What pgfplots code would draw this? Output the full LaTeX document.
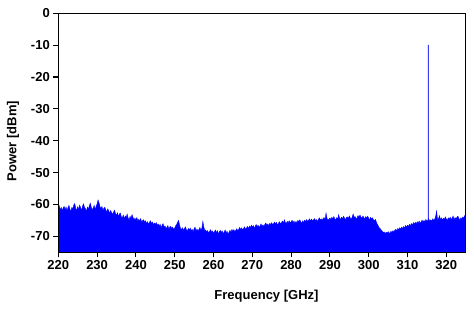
\documentclass[border=0pt]{standalone}
\usepackage{fontspec}
\setmainfont{Liberation Sans}
\usepackage{pgfplots}
\pgfplotsset{compat=1.18}
\begin{document}
\begin{tikzpicture}[font=\fontsize{13}{15.6}\selectfont\bfseries]
\begin{axis}[
  scale only axis, width=407.4pt, height=239pt,
  xmin=220, xmax=325, ymin=-75, ymax=0,
  xtick={220,230,...,320}, ytick={-70,-60,...,0},
  tick align=outside, xtick pos=left, ytick pos=left,
  major tick length=5pt, tick style={black, line width=1.1pt},
  axis line style={line width=1.1pt, black},
  axis on top,
  /pgf/number format/assume math mode=true,
  tick label style={font=\fontsize{13}{15.6}\selectfont\bfseries},
  xlabel={Frequency [GHz]}, ylabel={Power [dBm]},
  xlabel style={at={(axis description cs:0.511,-0.183)}, anchor=center},
  ylabel style={at={(axis description cs:-0.111,0.465)}, anchor=center},
]
\addplot[fill=blue, draw=blue, line width=0.4pt] coordinates {
(220,-80)
(220,-61.2) (220.25,-60.4) (220.5,-61.8) (220.75,-60.9)
(221,-62.0) (221.25,-61.1) (221.5,-60.6) (221.75,-61.7)
(222,-60.8) (222.25,-61.9) (222.5,-61.0) (222.75,-60.3)
(223,-61.5) (223.25,-62.2) (223.5,-60.9) (223.75,-61.4)
(224,-60.1) (224.25,-59.7) (224.5,-61.2) (224.75,-61.8)
(225,-60.7) (225.25,-61.6) (225.5,-60.2) (225.75,-61.0)
(226,-61.9) (226.25,-60.5) (226.5,-59.8) (226.75,-60.9)
(227,-61.3) (227.25,-62.1) (227.5,-60.8) (227.75,-61.5)
(228,-60.4) (228.25,-59.6) (228.5,-60.9) (228.75,-61.7)
(229,-61.1) (229.25,-60.3) (229.5,-61.6) (229.75,-60.6)
(230,-59.8) (230.25,-58.6) (230.5,-59.5) (230.75,-60.7)
(231,-61.3) (231.25,-60.6) (231.5,-61.9) (231.75,-61.2)
(232,-60.9) (232.25,-61.8) (232.5,-62.3) (232.75,-61.4)
(233,-62.0) (233.25,-62.8) (233.5,-61.9) (233.75,-62.6)
(234,-63.1) (234.25,-62.4) (234.5,-61.8) (234.75,-62.9)
(235,-63.4) (235.25,-62.6) (235.5,-63.8) (235.75,-63.0)
(236,-62.7) (236.25,-63.9) (236.5,-64.2) (236.75,-63.3)
(237,-64.5) (237.25,-63.6) (237.5,-64.1) (237.75,-63.0)
(238,-64.2) (238.25,-64.9) (238.5,-63.7) (238.75,-64.4)
(239,-63.2) (239.25,-64.0) (239.5,-64.8) (239.75,-64.3)
(240,-64.9) (240.25,-64.1) (240.5,-65.3) (240.75,-64.6)
(241,-65.2) (241.25,-64.4) (241.5,-65.7) (241.75,-65.0)
(242,-64.8) (242.25,-65.6) (242.5,-65.1) (242.75,-66.0)
(243,-65.4) (243.25,-66.2) (243.5,-65.6) (243.75,-65.1)
(244,-66.0) (244.25,-65.5) (244.5,-66.4) (244.75,-65.8)
(245,-66.3) (245.25,-65.7) (245.5,-66.6) (245.75,-66.1)
(246,-66.8) (246.25,-66.2) (246.5,-67.3) (246.75,-66.5)
(247,-66.0) (247.25,-67.1) (247.5,-66.7) (247.75,-67.5)
(248,-67.2) (248.25,-66.6) (248.5,-67.8) (248.75,-67.0)
(249,-66.9) (249.25,-67.6) (249.5,-67.1) (249.75,-67.9)
(250,-67.4) (250.25,-66.7) (250.5,-66.3) (250.75,-65.6)
(251,-65.0) (251.25,-66.4) (251.5,-67.5) (251.75,-67.9)
(252,-67.3) (252.25,-68.1) (252.5,-67.6) (252.75,-67.0)
(253,-67.9) (253.25,-68.4) (253.5,-67.5) (253.75,-68.0)
(254,-67.4) (254.25,-68.2) (254.5,-67.8) (254.75,-68.6)
(255,-67.6) (255.25,-67.1) (255.5,-68.3) (255.75,-67.7)
(256,-68.4) (256.25,-67.8) (256.5,-67.2) (256.75,-68.1)
(257,-67.5) (257.25,-65.3) (257.5,-67.0) (257.75,-68.2)
(258,-68.0) (258.25,-68.7) (258.5,-68.2) (258.75,-69.0)
(259,-68.4) (259.25,-67.9) (259.5,-68.8) (259.75,-68.3)
(260,-69.1) (260.25,-68.5) (260.5,-68.0) (260.75,-68.9)
(261,-68.2) (261.25,-69.3) (261.5,-68.6) (261.75,-68.1)
(262,-68.8) (262.25,-68.3) (262.5,-69.2) (262.75,-68.6)
(263,-68.0) (263.25,-68.9) (263.5,-68.4) (263.75,-69.4)
(264,-68.7) (264.25,-68.1) (264.5,-68.8) (264.75,-67.8)
(265,-68.5) (265.25,-67.9) (265.5,-68.6) (265.75,-68.1)
(266,-67.6) (266.25,-68.3) (266.5,-67.8) (266.75,-67.2)
(267,-67.9) (267.25,-67.3) (267.5,-68.1) (267.75,-67.5)
(268,-67.0) (268.25,-67.8) (268.5,-67.4) (268.75,-66.9)
(269,-67.6) (269.25,-66.8) (269.5,-67.3) (269.75,-66.5)
(270,-67.1) (270.25,-66.6) (270.5,-67.4) (270.75,-66.9)
(271,-66.3) (271.25,-67.0) (271.5,-66.5) (271.75,-67.2)
(272,-66.7) (272.25,-66.1) (272.5,-66.8) (272.75,-66.4)
(273,-66.9) (273.25,-66.2) (273.5,-65.8) (273.75,-66.6)
(274,-66.1) (274.25,-66.7) (274.5,-65.9) (274.75,-66.3)
(275,-65.7) (275.25,-66.4) (275.5,-66.0) (275.75,-65.5)
(276,-66.2) (276.25,-65.6) (276.5,-66.5) (276.75,-65.9)
(277,-65.4) (277.25,-66.1) (277.5,-65.7) (277.75,-65.2)
(278,-65.9) (278.25,-64.8) (278.5,-65.6) (278.75,-66.0)
(279,-65.3) (279.25,-65.8) (279.5,-65.1) (279.75,-65.6)
(280,-65.5) (280.25,-64.9) (280.5,-65.7) (280.75,-65.2)
(281,-66.0) (281.25,-65.3) (281.5,-65.8) (281.75,-65.0)
(282,-65.4) (282.25,-64.8) (282.5,-65.5) (282.75,-65.9)
(283,-65.1) (283.25,-65.7) (283.5,-64.9) (283.75,-65.4)
(284,-64.7) (284.25,-65.3) (284.5,-65.0) (284.75,-64.5)
(285,-65.2) (285.25,-64.6) (285.5,-65.1) (285.75,-64.9)
(286,-64.4) (286.25,-65.0) (286.5,-64.7) (286.75,-65.3)
(287,-64.8) (287.25,-64.2) (287.5,-64.9) (287.75,-64.5)
(288,-65.0) (288.25,-64.4) (288.5,-64.1) (288.75,-64.8)
(289,-62.7) (289.25,-64.3) (289.5,-65.0) (289.75,-64.6)
(290,-64.2) (290.25,-64.8) (290.5,-64.0) (290.75,-64.5)
(291,-63.8) (291.25,-64.4) (291.5,-64.9) (291.75,-64.1)
(292,-64.6) (292.25,-63.2) (292.5,-64.3) (292.75,-64.7)
(293,-64.0) (293.25,-64.5) (293.5,-63.7) (293.75,-64.2)
(294,-64.8) (294.25,-64.1) (294.5,-63.9) (294.75,-64.4)
(295,-63.6) (295.25,-64.2) (295.5,-64.7) (295.75,-63.9)
(296,-63.0) (296.25,-64.1) (296.5,-63.8) (296.75,-64.5)
(297,-64.2) (297.25,-63.5) (297.5,-64.0) (297.75,-63.3)
(298,-63.9) (298.25,-64.4) (298.5,-63.6) (298.75,-64.1)
(299,-64.5) (299.25,-63.8) (299.5,-64.2) (299.75,-63.7)
(300,-64.3) (300.25,-64.8) (300.5,-64.0) (300.75,-64.6)
(301,-64.2) (301.25,-64.9) (301.5,-65.1) (301.75,-64.7)
(302,-65.6) (302.25,-66.3) (302.5,-66.8) (302.75,-67.4)
(303,-67.6) (303.25,-68.1) (303.5,-68.4) (303.75,-68.8)
(304,-68.6) (304.25,-69.2) (304.5,-68.7) (304.75,-69.0)
(305,-68.5) (305.25,-69.1) (305.5,-68.8) (305.75,-68.4)
(306,-68.9) (306.25,-68.2) (306.5,-68.6) (306.75,-68.0)
(307,-67.8) (307.25,-68.3) (307.5,-67.5) (307.75,-67.9)
(308,-67.3) (308.25,-67.8) (308.5,-67.1) (308.75,-67.6)
(309,-66.9) (309.25,-67.4) (309.5,-66.6) (309.75,-67.1)
(310,-66.5) (310.25,-66.9) (310.5,-66.2) (310.75,-66.7)
(311,-66.0) (311.25,-66.5) (311.5,-65.7) (311.75,-66.2)
(312,-65.6) (312.25,-66.1) (312.5,-65.4) (312.75,-65.9)
(313,-65.2) (313.25,-65.8) (313.5,-65.5) (313.75,-64.9)
(314,-65.6) (314.25,-65.0) (314.5,-65.4) (314.75,-64.7)
(315,-65.3) (315.25,-64.9) (315.31,-65.0) (315.33,-10) (315.39,-10) (315.41,-65.1)
(315.5,-64.6) (315.75,-65.2)
(316,-64.8) (316.25,-65.3) (316.5,-64.5) (316.75,-65.0)
(317,-64.6) (317.25,-63.8) (317.5,-62.0) (317.75,-64.9)
(318,-64.4) (318.25,-63.5) (318.5,-64.8) (318.75,-64.2)
(319,-64.9) (319.25,-64.3) (319.5,-64.7) (319.75,-63.9)
(320,-64.5) (320.25,-65.0) (320.5,-64.2) (320.75,-64.6)
(321,-64.0) (321.25,-64.7) (321.5,-64.3) (321.75,-63.6)
(322,-64.8) (322.25,-64.1) (322.5,-64.5) (322.75,-64.0)
(323,-63.7) (323.25,-64.4) (323.5,-64.9) (323.75,-64.2)
(324,-64.6) (324.25,-63.9) (324.5,-64.3) (324.75,-63.5)
(325,-64.2)
(325,-80)
} -- cycle;
\draw[black!75, line width=1.3pt] (rel axis cs:0,1) -- (rel axis cs:1,1);
\end{axis}
\pgfresetboundingbox
\path (-58.3pt,-60.7pt) rectangle (415.7pt,252.3pt);
\end{tikzpicture}
\end{document}
